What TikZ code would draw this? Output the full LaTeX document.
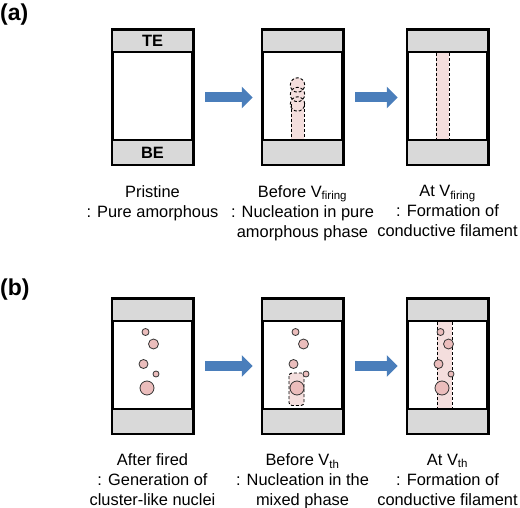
\documentclass[tikz,border=0pt]{standalone}
\usepackage{fontspec}
\setmainfont{Liberation Sans}
\usepackage{xcolor}
\usepackage{tikz}
\usetikzlibrary{arrows.meta}
\usetikzlibrary{positioning}

\definecolor{bandgray}{HTML}{D9D9D9}
\definecolor{filpink}{HTML}{F4DEDD}
\definecolor{nucpink}{HTML}{EBBDBC}
\definecolor{arrowblue}{HTML}{4A7EBB}

\tikzset{
  cell/.style={draw, line width=2.5pt, minimum width=79pt, minimum height=133pt, inner sep=0pt},
  band/.style={draw, fill=bandgray, line width=2.5pt},
  elabel/.style={font=\fontsize{16.4}{20}\selectfont\bfseries, inner sep=0pt},
  caption/.style={align=center, inner sep=0pt, font=\fontsize{16.4}{20}\selectfont},
  tag/.style={anchor=west, inner sep=0pt, font=\fontsize{23}{26}\selectfont\bfseries},
  blockarrow/.style={draw=arrowblue, line width=10pt, -{Triangle[length=11pt, width=21pt]}, shorten <=12pt, shorten >=9pt},
  filline/.style={densely dashed, line width=0.9pt},
  nucleus/.style={draw=black!80, fill=nucpink, line width=0.8pt},
}

\begin{document}
\begin{tikzpicture}[x=1pt, y=-1pt]
    \useasboundingbox (0, 0) rectangle (520, 508);

    \node[tag] (ta) at (0, 15) {(a)};
    \node[tag] (tb) at (0, 290) {(b)};

    % cells
    \node[cell] (a1) at (152.5, 97.5) {};
    \node[cell] (a2) at (302.5, 97.5) {};
    \node[cell] (a3) at (447.5, 97.5) {};
    \node[cell] (b1) at (152.5, 366) {};
    \node[cell] (b2) at (302.5, 366) {};
    \node[cell] (b3) at (447.5, 366) {};

    % filaments (drawn before the electrodes)
    \begin{scope}[shift={(a2.center)}]
        \fill[filpink] (-11.5, 6.5) rectangle (1.5, 41.5);
        \fill[filpink] (-5, 6.5) circle (7.2pt) (-5, -3) circle (7.2pt) (-5, -12.5) circle (7.2pt);
        \draw[filline] (-11.5, 6.5) -- (-11.5, 41.5) (1.5, 6.5) -- (1.5, 41.5);
        \draw[filline] (-5, 6.5) circle (7.2pt) (-5, -3) circle (7.2pt) (-5, -12.5) circle (7.2pt);
    \end{scope}
    \begin{scope}[shift={(a3.center)}]
        \fill[filpink] (-11.5, -44.5) rectangle (1.5, 41.5);
        \draw[filline] (-11.5, -44.5) -- (-11.5, 41.5) (1.5, -44.5) -- (1.5, 41.5);
    \end{scope}
    \begin{scope}[shift={(b2.center)}]
        \draw[filline, fill=filpink, rounded corners=3pt] (-13.5, 7) rectangle (1.5, 39.5);
    \end{scope}
    \begin{scope}[shift={(b3.center)}]
        \fill[filpink] (-10.5, -44) rectangle (4.5, 42);
        \draw[filline] (-10.5, -44) -- (-10.5, 42) (4.5, -44) -- (4.5, 42);
    \end{scope}

    % nuclei
    \foreach \c in {b1, b2, b3} {
        \begin{scope}[shift={(\c.center)}]
            \draw[nucleus] (-7, -34) circle (3.5pt);
            \draw[nucleus] (1, -22) circle (5pt);
            \draw[nucleus] (-9, -2) circle (4.5pt);
            \draw[nucleus] (3.5, 8) circle (3pt);
            \draw[nucleus] (-5.5, 22) circle (7pt);
        \end{scope}
    }

    % electrodes
    \foreach \c in {a1, a2, a3, b1, b2, b3} {
        \draw[band] (\c.north west) rectangle ([yshift=-22.5pt]\c.north east);
        \draw[band] (\c.south west) rectangle ([yshift=25pt]\c.south east);
        \draw[line width=2.5pt] (\c.north west) rectangle (\c.south east);
    }
    \node[elabel] (te) at ([yshift=-11.5pt]a1.north) {TE};
    \node[elabel] (be) at ([yshift=12.5pt]a1.south) {BE};

    % arrows
    \draw[blockarrow] (a1) -- (a2);
    \draw[blockarrow] (a2) -- (a3);
    \draw[blockarrow] (b1) -- (b2);
    \draw[blockarrow] (b2) -- (b3);

    % captions
    \node[caption, anchor=north, below=20pt of a1] (la1) {Pristine\\: Pure amorphous};
    \node[caption, anchor=north, below=20pt of a2] (la2) {Before V\textsubscript{firing}\\: Nucleation in pure\\amorphous phase};
    \node[caption, anchor=north, below=20pt of a3] (la3) {At V\textsubscript{firing}\\: Formation of\\conductive filament};
    \node[caption, anchor=north, below=20pt of b1] (lb1) {After fired\\: Generation of\\cluster-like nuclei};
    \node[caption, anchor=north, below=20pt of b2] (lb2) {Before V\textsubscript{th}\\: Nucleation in the\\mixed phase};
    \node[caption, anchor=north, below=20pt of b3] (lb3) {At V\textsubscript{th}\\: Formation of\\conductive filament};
\end{tikzpicture}
\end{document}
